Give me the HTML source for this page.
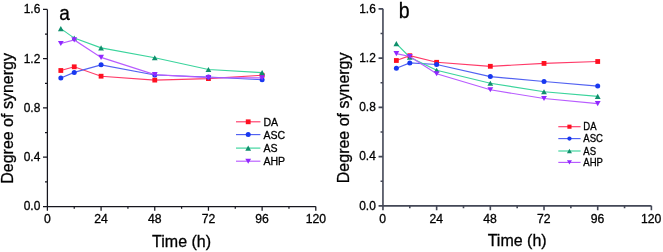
<!DOCTYPE html>
<html><head><meta charset="utf-8"><style>
html,body{margin:0;padding:0;background:#fff;}
body{width:663px;height:252px;overflow:hidden;}
svg{display:block;will-change:transform;font-family:"Liberation Sans", sans-serif;}
text{fill:#000;stroke:#000;stroke-width:0.3px;}
</style></head><body>
<svg width="663" height="252" viewBox="0 0 663 252">
<rect width="663" height="252" fill="#fff"/>
<g>
<path d="M47.40,9.40 V206.50 H315.80 M43.00,206.50 H47.40 M45.00,181.86 H47.40 M43.00,157.22 H47.40 M45.00,132.59 H47.40 M43.00,107.95 H47.40 M45.00,83.31 H47.40 M43.00,58.67 H47.40 M45.00,34.04 H47.40 M43.00,9.40 H47.40 M47.40,206.50 V210.80 M74.24,206.50 V208.80 M101.08,206.50 V210.80 M127.92,206.50 V208.80 M154.76,206.50 V210.80 M181.60,206.50 V208.80 M208.44,206.50 V210.80 M235.28,206.50 V208.80 M262.12,206.50 V210.80 M288.96,206.50 V208.80 M315.80,206.50 V210.80" fill="none" stroke="#16161e" stroke-width="1.25"/>
<text transform="translate(40.30,210.35) scale(0.95,1.0)" text-anchor="end" font-size="12.6">0.0</text>
<text transform="translate(40.30,161.07) scale(0.95,1.0)" text-anchor="end" font-size="12.6">0.4</text>
<text transform="translate(40.30,111.80) scale(0.95,1.0)" text-anchor="end" font-size="12.6">0.8</text>
<text transform="translate(40.30,62.52) scale(0.95,1.0)" text-anchor="end" font-size="12.6">1.2</text>
<text transform="translate(40.30,13.25) scale(0.95,1.0)" text-anchor="end" font-size="12.6">1.6</text>
<text transform="translate(47.40,223.10)" text-anchor="middle" font-size="12.2">0</text>
<text transform="translate(101.08,223.10)" text-anchor="middle" font-size="12.2">24</text>
<text transform="translate(154.76,223.10)" text-anchor="middle" font-size="12.2">48</text>
<text transform="translate(208.44,223.10)" text-anchor="middle" font-size="12.2">72</text>
<text transform="translate(262.12,223.10)" text-anchor="middle" font-size="12.2">96</text>
<text transform="translate(315.80,223.10)" text-anchor="middle" font-size="12.2">120</text>
<text transform="translate(59.15,19.50) scale(0.97,1.0)" font-size="19.6">a</text>
<text transform="translate(181.60,246.90)" text-anchor="middle" font-size="16">Time (h)</text>
<text transform="translate(13.30,118.45) rotate(-90) scale(1.0,1.02)" text-anchor="middle" font-size="16.0">Degree of synergy</text>
<polyline points="60.82,70.50 74.24,66.80 101.08,76.20 154.76,80.10 208.44,78.60 262.12,75.30" fill="none" stroke="#ff3a68" stroke-width="1.15"/>
<rect x="58.42" y="68.10" width="4.80" height="4.80" fill="#ff1020"/>
<rect x="71.84" y="64.40" width="4.80" height="4.80" fill="#ff1020"/>
<rect x="98.68" y="73.80" width="4.80" height="4.80" fill="#ff1020"/>
<rect x="152.36" y="77.70" width="4.80" height="4.80" fill="#ff1020"/>
<rect x="206.04" y="76.20" width="4.80" height="4.80" fill="#ff1020"/>
<rect x="259.72" y="72.90" width="4.80" height="4.80" fill="#ff1020"/>
<polyline points="60.82,78.00 74.24,72.40 101.08,64.85 154.76,75.00 208.44,77.00 262.12,79.70" fill="none" stroke="#5262f2" stroke-width="1.15"/>
<circle cx="60.82" cy="78.00" r="2.50" fill="#1838f0"/>
<circle cx="74.24" cy="72.40" r="2.50" fill="#1838f0"/>
<circle cx="101.08" cy="64.85" r="2.50" fill="#1838f0"/>
<circle cx="154.76" cy="75.00" r="2.50" fill="#1838f0"/>
<circle cx="208.44" cy="77.00" r="2.50" fill="#1838f0"/>
<circle cx="262.12" cy="79.70" r="2.50" fill="#1838f0"/>
<polyline points="60.82,28.65 74.24,38.10 101.08,47.90 154.76,57.80 208.44,69.50 262.12,72.60" fill="none" stroke="#3ad49c" stroke-width="1.15"/>
<polygon points="60.82,26.10 63.72,31.20 57.92,31.20" fill="#0f8f6c"/>
<polygon points="74.24,35.55 77.14,40.65 71.34,40.65" fill="#0f8f6c"/>
<polygon points="101.08,45.35 103.98,50.45 98.18,50.45" fill="#0f8f6c"/>
<polygon points="154.76,55.25 157.66,60.35 151.86,60.35" fill="#0f8f6c"/>
<polygon points="208.44,66.95 211.34,72.05 205.54,72.05" fill="#0f8f6c"/>
<polygon points="262.12,70.05 265.02,75.15 259.22,75.15" fill="#0f8f6c"/>
<polyline points="60.82,43.50 74.24,39.90 101.08,57.40 154.76,74.60 208.44,77.60 262.12,77.90" fill="none" stroke="#b85cff" stroke-width="1.15"/>
<polygon points="60.82,46.05 63.72,40.95 57.92,40.95" fill="#9028ff"/>
<polygon points="74.24,42.45 77.14,37.35 71.34,37.35" fill="#9028ff"/>
<polygon points="101.08,59.95 103.98,54.85 98.18,54.85" fill="#9028ff"/>
<polygon points="154.76,77.15 157.66,72.05 151.86,72.05" fill="#9028ff"/>
<polygon points="208.44,80.15 211.34,75.05 205.54,75.05" fill="#9028ff"/>
<polygon points="262.12,80.45 265.02,75.35 259.22,75.35" fill="#9028ff"/>
<line x1="236.00" y1="121.80" x2="260.40" y2="121.80" stroke="#ff3a68" stroke-width="1.15"/>
<rect x="245.80" y="119.40" width="4.80" height="4.80" fill="#ff1020"/>
<text transform="translate(263.40,125.90) scale(0.92,1.0)" font-size="11.5">DA</text>
<line x1="236.00" y1="134.60" x2="260.40" y2="134.60" stroke="#5262f2" stroke-width="1.15"/>
<circle cx="248.20" cy="134.60" r="2.50" fill="#1838f0"/>
<text transform="translate(263.40,138.70) scale(0.92,1.0)" font-size="11.5">ASC</text>
<line x1="236.00" y1="148.10" x2="260.40" y2="148.10" stroke="#3ad49c" stroke-width="1.15"/>
<polygon points="248.20,145.55 251.10,150.65 245.30,150.65" fill="#0f8f6c"/>
<text transform="translate(263.40,152.20) scale(0.92,1.0)" font-size="11.5">AS</text>
<line x1="236.00" y1="161.20" x2="260.40" y2="161.20" stroke="#b85cff" stroke-width="1.15"/>
<polygon points="248.20,163.75 251.10,158.65 245.30,158.65" fill="#9028ff"/>
<text transform="translate(263.40,165.30) scale(0.92,1.0)" font-size="11.5">AHP</text>
</g>
<g>
<path d="M382.95,8.85 V205.85 H651.40 M378.55,205.85 H382.95 M380.55,181.22 H382.95 M378.55,156.60 H382.95 M380.55,131.97 H382.95 M378.55,107.35 H382.95 M380.55,82.72 H382.95 M378.55,58.10 H382.95 M380.55,33.47 H382.95 M378.55,8.85 H382.95 M382.95,205.85 V210.15 M409.79,205.85 V208.15 M436.64,205.85 V210.15 M463.49,205.85 V208.15 M490.33,205.85 V210.15 M517.17,205.85 V208.15 M544.02,205.85 V210.15 M570.87,205.85 V208.15 M597.71,205.85 V210.15 M624.55,205.85 V208.15 M651.40,205.85 V210.15" fill="none" stroke="#434756" stroke-width="1.6"/>
<text transform="translate(375.85,209.70) scale(0.95,1.0)" text-anchor="end" font-size="12.6">0.0</text>
<text transform="translate(375.85,160.45) scale(0.95,1.0)" text-anchor="end" font-size="12.6">0.4</text>
<text transform="translate(375.85,111.20) scale(0.95,1.0)" text-anchor="end" font-size="12.6">0.8</text>
<text transform="translate(375.85,61.95) scale(0.95,1.0)" text-anchor="end" font-size="12.6">1.2</text>
<text transform="translate(375.85,12.70) scale(0.95,1.0)" text-anchor="end" font-size="12.6">1.6</text>
<text transform="translate(382.65,222.95)" text-anchor="middle" font-size="12.2">0</text>
<text transform="translate(436.34,222.95)" text-anchor="middle" font-size="12.2">24</text>
<text transform="translate(490.03,222.95)" text-anchor="middle" font-size="12.2">48</text>
<text transform="translate(543.72,222.95)" text-anchor="middle" font-size="12.2">72</text>
<text transform="translate(597.41,222.95)" text-anchor="middle" font-size="12.2">96</text>
<text transform="translate(651.10,222.95)" text-anchor="middle" font-size="12.2">120</text>
<text transform="translate(398.65,17.80) scale(0.916,1.0)" font-size="21.3">b</text>
<text transform="translate(517.17,246.00)" text-anchor="middle" font-size="16">Time (h)</text>
<text transform="translate(349.30,117.85) rotate(-90) scale(1.0,1.02)" text-anchor="middle" font-size="16.0">Degree of synergy</text>
<polyline points="396.37,60.50 409.79,55.70 436.64,62.30 490.33,66.30 544.02,63.40 597.71,61.50" fill="none" stroke="#ff3a68" stroke-width="1.15"/>
<rect x="393.97" y="58.10" width="4.80" height="4.80" fill="#ff1020"/>
<rect x="407.39" y="53.30" width="4.80" height="4.80" fill="#ff1020"/>
<rect x="434.24" y="59.90" width="4.80" height="4.80" fill="#ff1020"/>
<rect x="487.93" y="63.90" width="4.80" height="4.80" fill="#ff1020"/>
<rect x="541.62" y="61.00" width="4.80" height="4.80" fill="#ff1020"/>
<rect x="595.31" y="59.10" width="4.80" height="4.80" fill="#ff1020"/>
<polyline points="396.37,68.30 409.79,62.90 436.64,64.50 490.33,76.60 544.02,81.50 597.71,86.10" fill="none" stroke="#5262f2" stroke-width="1.15"/>
<circle cx="396.37" cy="68.30" r="2.50" fill="#1838f0"/>
<circle cx="409.79" cy="62.90" r="2.50" fill="#1838f0"/>
<circle cx="436.64" cy="64.50" r="2.50" fill="#1838f0"/>
<circle cx="490.33" cy="76.60" r="2.50" fill="#1838f0"/>
<circle cx="544.02" cy="81.50" r="2.50" fill="#1838f0"/>
<circle cx="597.71" cy="86.10" r="2.50" fill="#1838f0"/>
<polyline points="396.37,43.60 409.79,57.20 436.64,70.20 490.33,83.20 544.02,91.80 597.71,96.40" fill="none" stroke="#3ad49c" stroke-width="1.15"/>
<polygon points="396.37,41.05 399.27,46.15 393.47,46.15" fill="#0f8f6c"/>
<polygon points="409.79,54.65 412.69,59.75 406.89,59.75" fill="#0f8f6c"/>
<polygon points="436.64,67.65 439.54,72.75 433.74,72.75" fill="#0f8f6c"/>
<polygon points="490.33,80.65 493.23,85.75 487.43,85.75" fill="#0f8f6c"/>
<polygon points="544.02,89.25 546.92,94.35 541.12,94.35" fill="#0f8f6c"/>
<polygon points="597.71,93.85 600.61,98.95 594.81,98.95" fill="#0f8f6c"/>
<polyline points="396.37,53.60 409.79,56.50 436.64,73.80 490.33,89.80 544.02,98.50 597.71,103.60" fill="none" stroke="#b85cff" stroke-width="1.15"/>
<polygon points="396.37,56.15 399.27,51.05 393.47,51.05" fill="#9028ff"/>
<polygon points="409.79,59.05 412.69,53.95 406.89,53.95" fill="#9028ff"/>
<polygon points="436.64,76.35 439.54,71.25 433.74,71.25" fill="#9028ff"/>
<polygon points="490.33,92.35 493.23,87.25 487.43,87.25" fill="#9028ff"/>
<polygon points="544.02,101.05 546.92,95.95 541.12,95.95" fill="#9028ff"/>
<polygon points="597.71,106.15 600.61,101.05 594.81,101.05" fill="#9028ff"/>
<line x1="558.30" y1="126.70" x2="580.60" y2="126.70" stroke="#ff3a68" stroke-width="1.15"/>
<rect x="567.39" y="124.64" width="4.13" height="4.13" fill="#ff1020"/>
<text transform="translate(583.30,130.45) scale(0.91,1.0)" font-size="10.5">DA</text>
<line x1="558.30" y1="138.60" x2="580.60" y2="138.60" stroke="#5262f2" stroke-width="1.15"/>
<circle cx="569.45" cy="138.60" r="2.15" fill="#1838f0"/>
<text transform="translate(583.30,142.35) scale(0.91,1.0)" font-size="10.5">ASC</text>
<line x1="558.30" y1="151.00" x2="580.60" y2="151.00" stroke="#3ad49c" stroke-width="1.15"/>
<polygon points="569.45,148.81 571.94,153.19 566.96,153.19" fill="#0f8f6c"/>
<text transform="translate(583.30,154.75) scale(0.91,1.0)" font-size="10.5">AS</text>
<line x1="558.30" y1="162.40" x2="580.60" y2="162.40" stroke="#b85cff" stroke-width="1.15"/>
<polygon points="569.45,164.59 571.94,160.21 566.96,160.21" fill="#9028ff"/>
<text transform="translate(583.30,166.15) scale(0.91,1.0)" font-size="10.5">AHP</text>
</g>
</svg>
</body></html>
